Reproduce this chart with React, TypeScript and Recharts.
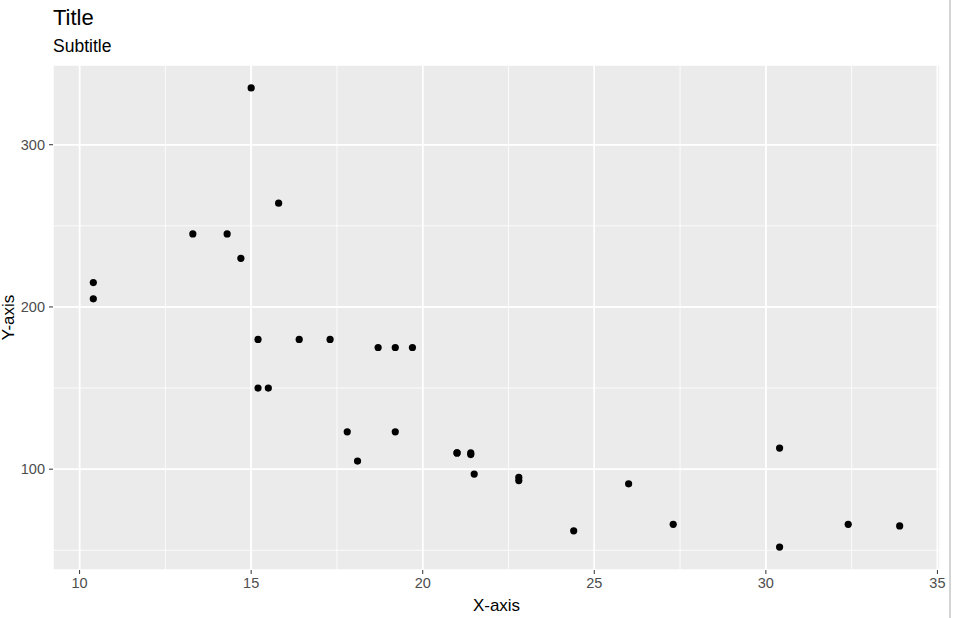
import React from "react";
import {
  ScatterChart,
  Scatter,
  CartesianGrid,
  XAxis,
  YAxis,
  ReferenceLine,
} from "recharts";

// mpg (x) vs hp (y)
const mpgValues = [
  21.0, 21.0, 22.8, 21.4, 18.7, 18.1, 14.3, 24.4, 22.8, 19.2, 17.8, 16.4, 17.3,
  15.2, 10.4, 10.4, 14.7, 32.4, 30.4, 33.9, 21.5, 15.5, 15.2, 13.3, 19.2, 27.3,
  26.0, 30.4, 15.8, 19.7, 15.0, 21.4,
];
const hpValues = [
  110, 110, 93, 110, 175, 105, 245, 62, 95, 123, 123, 180, 180, 180, 205, 215,
  230, 66, 52, 65, 97, 150, 150, 245, 175, 66, 91, 113, 264, 175, 335, 109,
];

const xTicks = [10, 15, 20, 25, 30, 35];
const yTicks = [100, 200, 300];
const xMinor = [12.5, 17.5, 22.5, 27.5, 32.5];
const yMinor = [50, 150, 250];

const points = mpgValues.map((mpg, i) => ({ mpg, hp: hpValues[i] }));

const FONT = "Liberation Sans, Arial, sans-serif";

const Dot = (props: any) => {
  const { cx, cy } = props;
  return <circle cx={cx} cy={cy} r={3.6} fill="#000000" />;
};

export default function App() {
  return (
    <div
      style={{
        position: "absolute",
        left: 0,
        top: 0,
        width: 953,
        height: 618,
        background: "#ffffff",
        fontFamily: FONT,
      }}
    >
      <div style={{ position: "absolute", left: 53, top: 5, fontSize: 22, color: "#000" }}>
        Title
      </div>
      <div style={{ position: "absolute", left: 53, top: 36, fontSize: 17.5, color: "#000" }}>
        Subtitle
      </div>
      <div
        style={{
          position: "absolute",
          left: 949,
          top: 0,
          width: 2,
          height: 618,
          background: "#d4d4d4",
        }}
      />

      <ScatterChart
        width={953}
        height={618}
        margin={{ top: 65, right: 13, bottom: 0, left: 0 }}
      >
        <CartesianGrid stroke="#ffffff" strokeWidth={1.5} fill="#EBEBEB" />
        {xMinor.map((v) => (
          <ReferenceLine key={`xm${v}`} x={v} stroke="#ffffff" strokeWidth={0.8} />
        ))}
        {yMinor.map((v) => (
          <ReferenceLine key={`ym${v}`} y={v} stroke="#ffffff" strokeWidth={0.8} />
        ))}
        {xTicks.map((v) => (
          <ReferenceLine key={`xM${v}`} x={v} stroke="#ffffff" strokeWidth={1.5} />
        ))}
        {yTicks.map((v) => (
          <ReferenceLine key={`yM${v}`} y={v} stroke="#ffffff" strokeWidth={1.5} />
        ))}
        <XAxis
          type="number"
          dataKey="mpg"
          domain={[9.225, 35.075]}
          ticks={xTicks}
          allowDataOverflow
          height={48}
          axisLine={false}
          tickLine={{ stroke: "#333333" }}
          tickSize={4}
          tick={{ fill: "#4D4D4D", fontSize: 14.5, fontFamily: FONT, dy: 2 }}
          label={{
            value: "X-axis",
            position: "insideBottom",
            offset: 7,
            fill: "#000000",
            fontSize: 17,
            fontFamily: FONT,
          }}
        />
        <YAxis
          type="number"
          dataKey="hp"
          domain={[37.85, 349.15]}
          ticks={yTicks}
          allowDataOverflow
          width={53}
          axisLine={false}
          tickLine={{ stroke: "#333333" }}
          tickSize={4}
          tick={{ fill: "#4D4D4D", fontSize: 14.5, fontFamily: FONT, dx: -2 }}
          label={{
            value: "Y-axis",
            angle: -90,
            position: "insideLeft",
            offset: 0,
            dx: 8,
            fill: "#000000",
            fontSize: 17,
            fontFamily: FONT,
            style: { textAnchor: "middle" },
          }}
        />
        <Scatter data={points} shape={<Dot />} isAnimationActive={false} />
      </ScatterChart>
    </div>
  );
}
